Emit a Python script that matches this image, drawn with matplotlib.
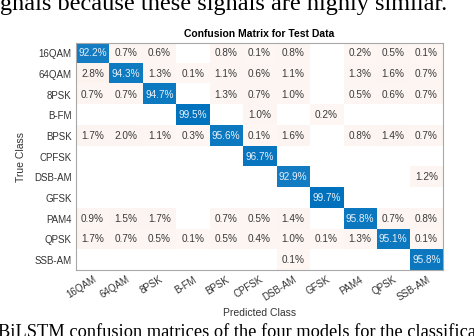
import numpy as np
import matplotlib
matplotlib.use("Agg")
import matplotlib.pyplot as plt

plt.rcParams['font.family'] = ['Liberation Sans', 'DejaVu Sans']

classes = ['16QAM', '64QAM', '8PSK', 'B-FM', 'BPSK', 'CPFSK',
           'DSB-AM', 'GFSK', 'PAM4', 'QPSK', 'SSB-AM']

# column-normalized percentages, rows = true class, 0 = empty cell
row_16qam = [92.2, 0.7, 0.6, 0, 0.8, 0.1, 0.8, 0, 0.2, 0.5, 0.1]
row_64qam = [2.8, 94.3, 1.3, 0.1, 1.1, 0.6, 1.1, 0, 1.3, 1.6, 0.7]
row_8psk = [0.7, 0.7, 94.7, 0, 1.3, 0.7, 1.0, 0, 0.5, 0.6, 0.7]
row_bfm = [0, 0, 0, 99.5, 0, 1.0, 0, 0.2, 0, 0, 0]
row_bpsk = [1.7, 2.0, 1.1, 0.3, 95.6, 0.1, 1.6, 0, 0.8, 1.4, 0.7]
row_cpfsk = [0, 0, 0, 0, 0, 96.7, 0, 0, 0, 0, 0]
row_dsbam = [0, 0, 0, 0, 0, 0, 92.9, 0, 0, 0, 1.2]
row_gfsk = [0, 0, 0, 0, 0, 0, 0, 99.7, 0, 0, 0]
row_pam4 = [0.9, 1.5, 1.7, 0, 0.7, 0.5, 1.4, 0, 95.8, 0.7, 0.8]
row_qpsk = [1.7, 0.7, 0.5, 0.1, 0.5, 0.4, 1.0, 0.1, 1.3, 95.1, 0.1]
row_ssbam = [0, 0, 0, 0, 0, 0, 0.1, 0, 0, 0, 95.8]

cm = np.array([row_16qam, row_64qam, row_8psk, row_bfm, row_bpsk, row_cpfsk,
               row_dsbam, row_gfsk, row_pam4, row_qpsk, row_ssbam])
n = len(classes)

blue = np.array([0.0, 0.447, 0.741])
red = np.array([0.85, 0.325, 0.098])
white = np.ones(3)

rgb = np.ones((n, n, 3))
for i in range(n):
    for j in range(n):
        v = cm[i, j]
        if v == 0:
            continue
        if i == j:
            t = v / 100
            rgb[i, j] = white + (blue - white) * t
        else:
            t = 0.05 + 0.006 * v
            rgb[i, j] = white + (red - white) * t

fig = plt.figure(figsize=(4.74, 3.36), dpi=100)
ax = fig.add_axes([0.160, 0.196, 0.775, 0.676])
ax.imshow(rgb, aspect='auto', interpolation='nearest')

for i in range(n):
    for j in range(n):
        v = cm[i, j]
        if v == 0:
            continue
        col = '#e8f0f8' if i == j else '#3a3a3a'
        ax.text(j, i, f'{v:.1f}%', ha='center', va='center',
                fontsize=7.2, color=col)

ax.set_xticks(range(n))
ax.set_yticks(range(n))
ax.set_xticklabels(classes, rotation=32, ha='right', rotation_mode='anchor',
                   fontsize=7, color='#333333')
ax.set_yticklabels(classes, fontsize=7, color='#333333')
ax.tick_params(length=0, pad=3)
for s in ax.spines.values():
    s.set_color('#a8a8a8')
    s.set_linewidth(0.8)

ax.set_title('Confusion Matrix for Test Data', fontsize=7.5,
             fontweight='bold', pad=4)
ax.set_xlabel('Predicted Class', fontsize=7.5, color='#333333', labelpad=4)
ax.set_ylabel('True Class', fontsize=7.5, color='#333333', labelpad=6)

# surrounding paper text, cut by the page crop as in the source
fig.text(0.0, 1 - 10 / 336, 'gnals because these signals are highly similar.',
         fontsize=17.5, family='Liberation Serif', va='baseline', ha='left')
fig.text(-0.004, -0.004, 'BiLSTM confusion matrices of the four models for the classification',
         fontsize=13.2, family='Liberation Serif', va='baseline', ha='left')

fig.savefig('out.png', dpi=100)
